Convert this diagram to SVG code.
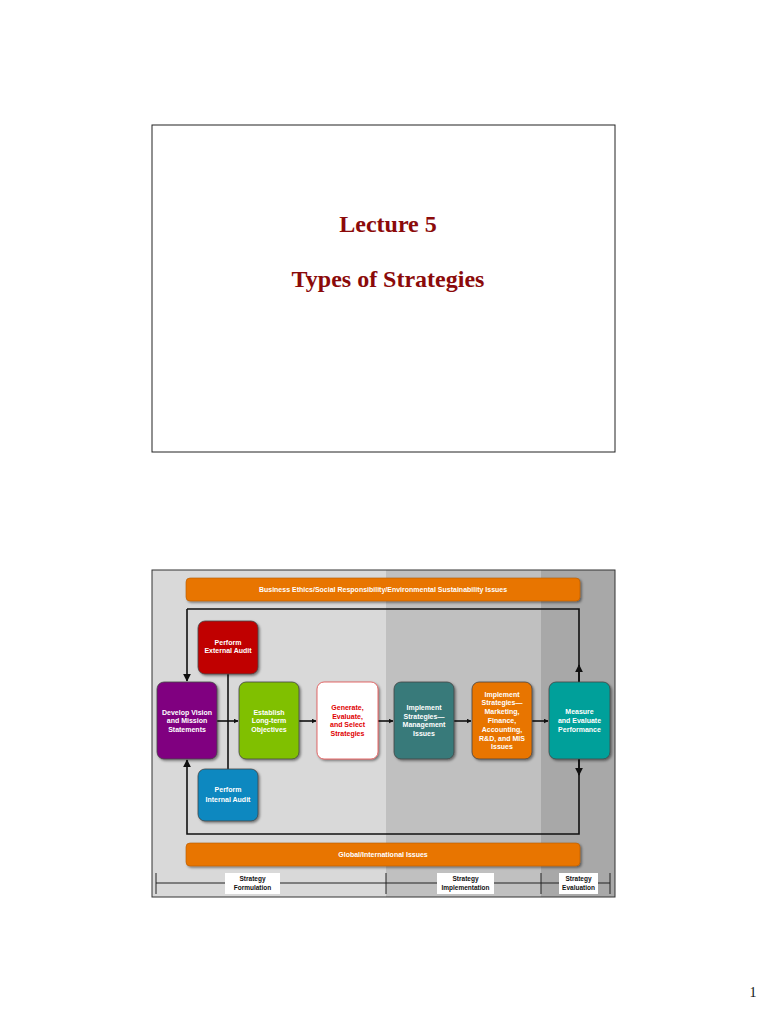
<svg xmlns="http://www.w3.org/2000/svg" width="768" height="1024" viewBox="0 0 768 1024">
<defs>
<style>
.t{font-family:"Liberation Sans",Arial,sans-serif;font-weight:bold;font-size:7px;fill:#fff;text-anchor:middle}
.title{font-family:"Liberation Serif","Times New Roman",serif;font-weight:bold;font-size:24px;fill:#8b0a0a;text-anchor:middle}
.lbl{font-family:"Liberation Sans",Arial,sans-serif;font-weight:bold;font-size:6.5px;fill:#111;text-anchor:middle}
.ln{stroke:#111;stroke-width:1.6;fill:none}
.node{stroke:#444;stroke-width:0.8;filter:url(#sh)}
</style>
<filter id="sh" x="-20%" y="-20%" width="140%" height="140%">
<feDropShadow dx="1.5" dy="1.5" stdDeviation="1" flood-color="#000" flood-opacity="0.45"/>
</filter>
<marker id="ah" viewBox="0 0 10 10" refX="9" refY="5" markerWidth="5" markerHeight="5" orient="auto" markerUnits="userSpaceOnUse">
<path d="M0,0 L10,5 L0,10 z" fill="#111"/>
</marker>
<marker id="ahb" viewBox="0 0 10 10" refX="9" refY="5" markerWidth="8" markerHeight="9" orient="auto" markerUnits="userSpaceOnUse">
<path d="M0,0 L10,5 L0,10 z" fill="#111"/>
</marker>
</defs>
<rect width="768" height="1024" fill="#fff"/>

<!-- Title slide -->
<rect x="152" y="125" width="463" height="327" fill="#fff" stroke="#222" stroke-width="1"/>
<text class="title" x="388" y="232">Lecture 5</text>
<text class="title" x="388" y="287">Types of Strategies</text>

<!-- Diagram background -->
<rect x="152" y="570" width="234" height="327" fill="#d9d9d9"/>
<rect x="386" y="570" width="155" height="327" fill="#c0c0c0"/>
<rect x="541" y="570" width="74" height="327" fill="#a8a8a8"/>
<rect x="152" y="570" width="463" height="327" fill="none" stroke="#333" stroke-width="1"/>

<!-- Bars -->
<g id="bar-top">
<rect x="186" y="578" width="394" height="23" rx="4" fill="#e87500" stroke="#b55a00" stroke-width="0.6" filter="url(#sh)"/>
<text class="t" x="383" y="591.5" font-size="6.5">Business Ethics/Social Responsibility/Environmental Sustainability Issues</text>
</g>
<g id="bar-bottom">
<rect x="186" y="843" width="394" height="23" rx="4" fill="#e87500" stroke="#b55a00" stroke-width="0.6" filter="url(#sh)"/>
<text class="t" x="383" y="856.5" font-size="6.5">Global/International Issues</text>
</g>

<!-- Connectors -->
<g id="connectors">
<path class="ln" d="M187,609 H579 V682"/>
<path class="ln" d="M187,609 V681" marker-end="url(#ahb)"/>
<path class="ln" d="M579,682 V665" marker-end="url(#ahb)"/>
<path class="ln" d="M579,759 V834 H187 V760" marker-end="url(#ahb)"/>
<path class="ln" d="M579,759 V775" marker-end="url(#ahb)"/>
<path class="ln" d="M228,674 V769"/>
<path class="ln" d="M217,721 H238" marker-end="url(#ah)"/>
<path class="ln" d="M299,721 H316" marker-end="url(#ah)"/>
<path class="ln" d="M378,721 H393" marker-end="url(#ah)"/>
<path class="ln" d="M454,721 H471" marker-end="url(#ah)"/>
<path class="ln" d="M532,721 H548" marker-end="url(#ah)"/>
</g>

<!-- Nodes -->
<g id="develop">
<rect class="node" x="157" y="682" width="60" height="77" rx="7" fill="#800080"/>
<text class="t" x="187" y="714.5">Develop Vision</text>
<text class="t" x="187" y="723">and Mission</text>
<text class="t" x="187" y="731.5">Statements</text>
</g>
<g id="external">
<rect class="node" x="198" y="621" width="60" height="53" rx="7" fill="#c00000"/>
<text class="t" x="228" y="644.5">Perform</text>
<text class="t" x="228" y="653">External Audit</text>
</g>
<g id="internal">
<rect class="node" x="198" y="769" width="60" height="52" rx="7" fill="#0a88c0"/>
<text class="t" x="228" y="791.5">Perform</text>
<text class="t" x="228" y="801.5">Internal Audit</text>
</g>
<g id="establish">
<rect class="node" x="239" y="682" width="60" height="77" rx="7" fill="#80c000"/>
<text class="t" x="269" y="714.5">Establish</text>
<text class="t" x="269" y="723">Long-term</text>
<text class="t" x="269" y="731.5">Objectives</text>
</g>
<g id="generate">
<rect x="317" y="682" width="61" height="77" rx="7" fill="#fff" stroke="#e05a5a" stroke-width="0.9" filter="url(#sh)"/>
<text class="t" x="347.5" y="710" style="fill:#e00000">Generate,</text>
<text class="t" x="347.5" y="718.5" style="fill:#e00000">Evaluate,</text>
<text class="t" x="347.5" y="727" style="fill:#e00000">and Select</text>
<text class="t" x="347.5" y="735.5" style="fill:#e00000">Strategies</text>
</g>
<g id="impl-mgmt">
<rect class="node" x="394" y="682" width="60" height="77" rx="7" fill="#377a7a"/>
<text class="t" x="424" y="709.5">Implement</text>
<text class="t" x="424" y="718.5">Strategies—</text>
<text class="t" x="424" y="727">Management</text>
<text class="t" x="424" y="736">Issues</text>
</g>
<g id="impl-mkt">
<rect class="node" x="472" y="682" width="60" height="77" rx="7" fill="#e87500"/>
<text class="t" x="502" y="696.5">Implement</text>
<text class="t" x="502" y="705">Strategies—</text>
<text class="t" x="502" y="714">Marketing,</text>
<text class="t" x="502" y="723">Finance,</text>
<text class="t" x="502" y="732">Accounting,</text>
<text class="t" x="502" y="741">R&amp;D, and MIS</text>
<text class="t" x="502" y="749">Issues</text>
</g>
<g id="measure">
<rect class="node" x="549" y="682" width="61" height="77" rx="7" fill="#00a09a"/>
<text class="t" x="579.5" y="714">Measure</text>
<text class="t" x="579.5" y="723">and Evaluate</text>
<text class="t" x="579.5" y="731.5">Performance</text>
</g>

<!-- Timeline -->
<g id="timeline">
<path d="M156,883 H610 M156,873 V894 M386,873 V894 M541,873 V894 M610,873 V894" stroke="#222" stroke-width="1" fill="none"/>
<rect x="225" y="873" width="55" height="21" fill="#fff"/>
<text class="lbl" x="252.5" y="880.5">Strategy</text>
<text class="lbl" x="252.5" y="889.5">Formulation</text>
<rect x="437" y="873" width="57" height="21" fill="#fff"/>
<text class="lbl" x="465.5" y="880.5">Strategy</text>
<text class="lbl" x="465.5" y="889.5">Implementation</text>
<rect x="559" y="873" width="39" height="21" fill="#fff"/>
<text class="lbl" x="578.5" y="880.5">Strategy</text>
<text class="lbl" x="578.5" y="889.5">Evaluation</text>
</g>

<text x="753" y="997" font-family="Liberation Serif,serif" font-size="14" fill="#111" text-anchor="middle">1</text>
</svg>
